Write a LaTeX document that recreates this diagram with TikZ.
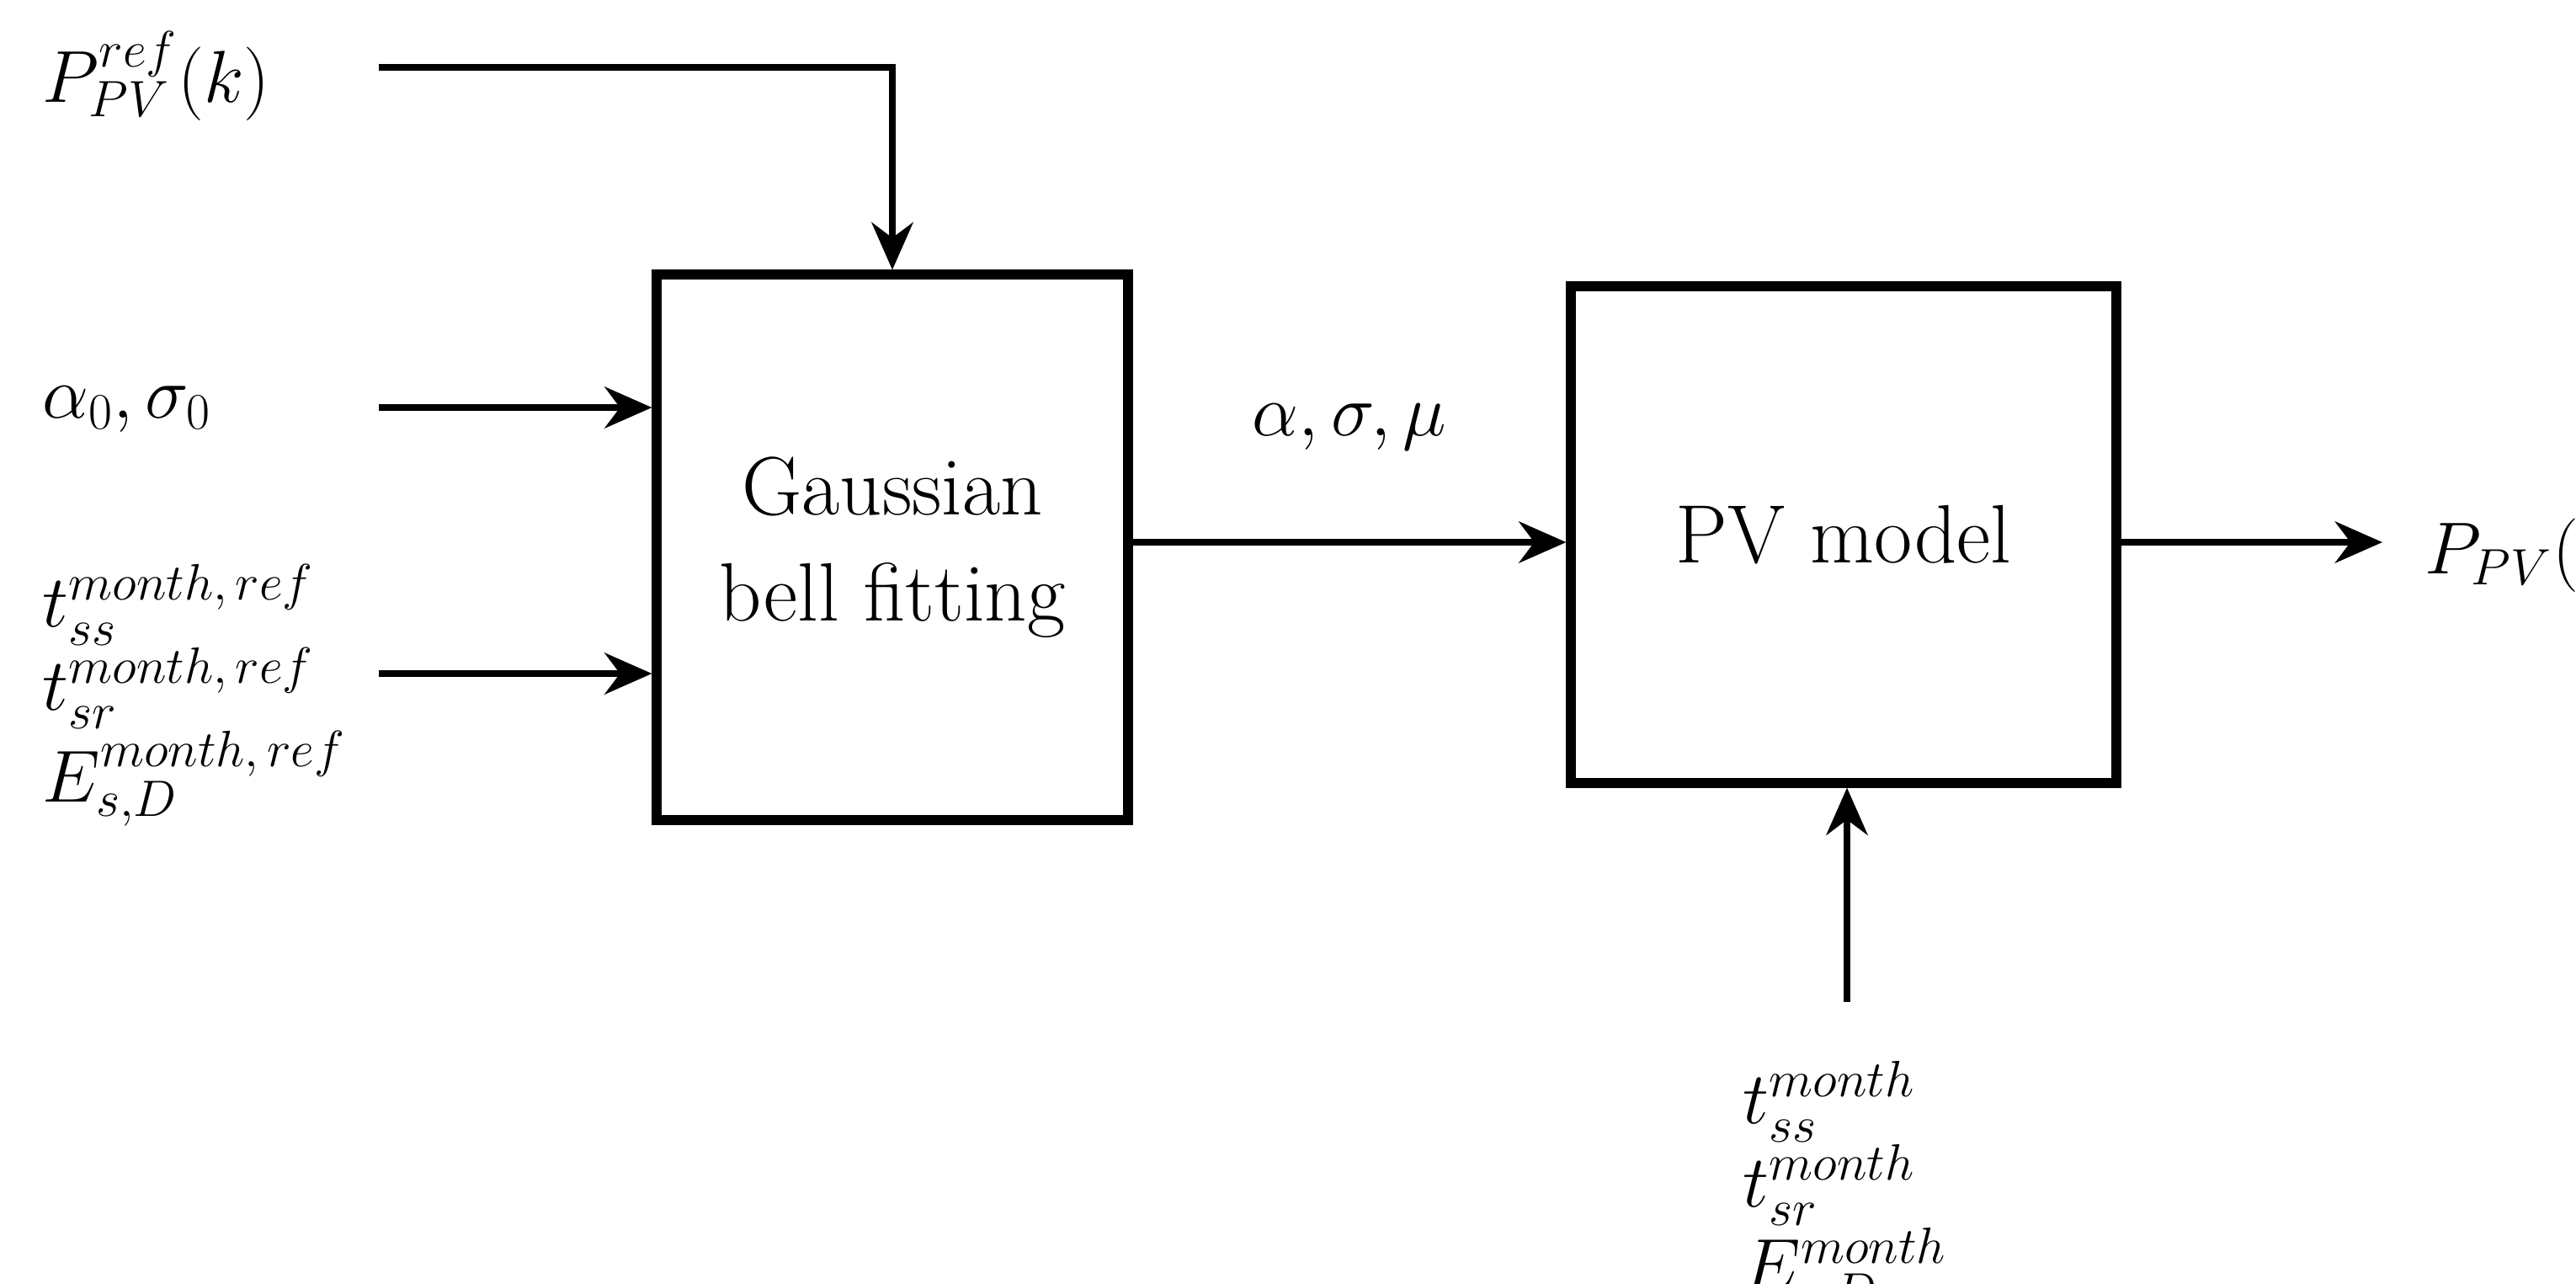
\documentclass[tikz,border=0pt]{standalone}
\usetikzlibrary{arrows.meta}
\begin{document}
\begin{tikzpicture}[x=0.02cm,y=-0.02cm,
  box/.style={draw,line width=3.2pt,inner sep=0pt,align=center,font=\fontsize{28}{36}\selectfont},
  arr/.style={line width=2.2pt,-{Stealth[length=16pt,width=14pt]}},
  lbl/.style={font=\fontsize{26}{30}\selectfont,inner sep=0pt}]
\useasboundingbox (0,0) rectangle (1530,762);
\node[box,minimum width=5.6cm,minimum height=6.48cm] (g) at (530,325) {Gaussian\\bell fitting};
\node[box,minimum width=6.48cm,minimum height=5.9cm] (pv) at (1095,317.5) {PV model};
\node[lbl,anchor=west] (pref) at (25,45) {$P_{PV}^{ref}(k)$};
\coordinate (c1) at (225,40);
\coordinate (c1b) at (530,40);
\draw[arr] (c1) -- (c1b) -- (g.north);
\node[lbl,anchor=west] (a0) at (25,243) {$\alpha_0,\sigma_0$};
\coordinate (c2) at (225,242);
\draw[arr] (c2) -- (g.west |- c2);
\node[lbl,anchor=north west,align=left,font=\fontsize{26}{27}\selectfont] (tref) at (25,335)
  {$t_{ss}^{month,\,ref}$\\$t_{sr}^{month,\,ref}$\\$E_{s,D}^{month,\,ref}$};
\coordinate (c3) at (225,400);
\draw[arr] (c3) -- (g.west |- c3);
\draw[arr] (g.east |- 0,322) -- (pv.west |- 0,322) node[lbl,midway,above=30pt] {$\alpha,\sigma,\mu$};
\node[lbl,anchor=west] (out) at (1440,330) {$P_{PV}(k)$};
\draw[arr] (pv.east |- 0,322) -- (1415,322);
\node[lbl,anchor=north west,align=left,font=\fontsize{26}{27}\selectfont] (tm) at (1035,630)
  {$t_{ss}^{month}$\\$t_{sr}^{month}$\\$E_{s,D}^{month}$};
\coordinate (c4) at (1097,595);
\draw[arr] (c4) -- (pv.south -| c4);
\end{tikzpicture}
\end{document}
